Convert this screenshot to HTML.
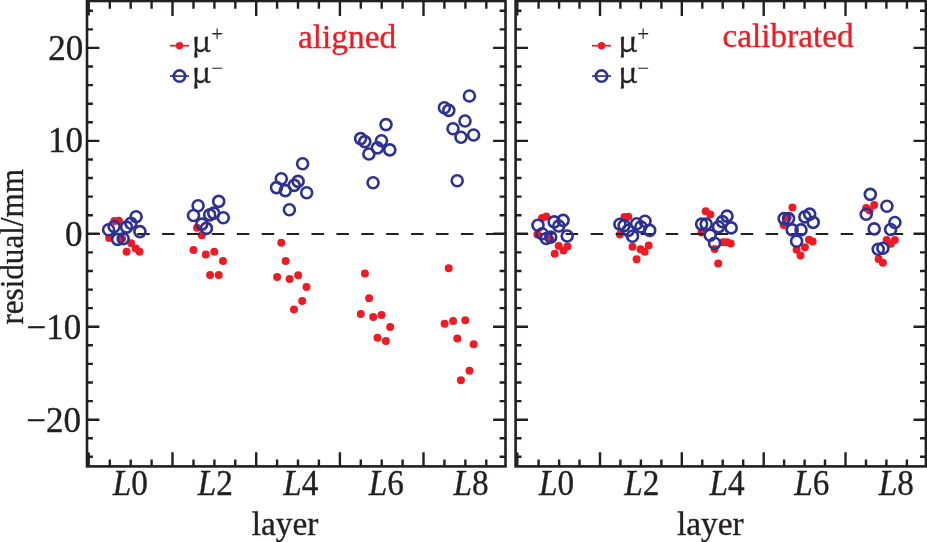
<!DOCTYPE html>
<html lang="en"><head><meta charset="utf-8"><title>residual vs layer</title>
<style>html,body{margin:0;padding:0;background:#fff}body{width:927px;height:542px;overflow:hidden}svg{display:block}text{stroke:currentColor;stroke-width:0.35px;font-family:"Liberation Serif","Times New Roman",Times,serif;font-size:34px;fill:#231f20;color:#231f20}</style>
</head><body>
<svg width="927" height="542" viewBox="0 0 927 542">
<rect x="0" y="0" width="927" height="542" fill="#fff"/>
<path d="M109.8 1.0v7.8M109.8 466.4v-7.0M130.7 1.0v7.8M130.7 466.4v-7.0M151.6 1.0v7.8M151.6 466.4v-7.0M172.5 1.0v14.9M172.5 466.4v-14.1M193.5 1.0v7.8M193.5 466.4v-7.0M214.4 1.0v7.8M214.4 466.4v-7.0M235.3 1.0v7.8M235.3 466.4v-7.0M256.2 1.0v14.9M256.2 466.4v-14.1M277.1 1.0v7.8M277.1 466.4v-7.0M298.0 1.0v7.8M298.0 466.4v-7.0M318.9 1.0v7.8M318.9 466.4v-7.0M339.9 1.0v14.9M339.9 466.4v-14.1M360.8 1.0v7.8M360.8 466.4v-7.0M381.7 1.0v7.8M381.7 466.4v-7.0M402.6 1.0v7.8M402.6 466.4v-7.0M423.5 1.0v14.9M423.5 466.4v-14.1M444.4 1.0v7.8M444.4 466.4v-7.0M465.4 1.0v7.8M465.4 466.4v-7.0M486.3 1.0v7.8M486.3 466.4v-7.0M87.0 456.8h5.9M505.5 456.8h-5.9M87.0 438.2h5.9M505.5 438.2h-5.9M87.0 419.7h12.4M505.5 419.7h-12.4M87.0 401.1h5.9M505.5 401.1h-5.9M87.0 382.5h5.9M505.5 382.5h-5.9M87.0 363.9h5.9M505.5 363.9h-5.9M87.0 345.3h5.9M505.5 345.3h-5.9M87.0 326.7h12.4M505.5 326.7h-12.4M87.0 308.1h5.9M505.5 308.1h-5.9M87.0 289.6h5.9M505.5 289.6h-5.9M87.0 271.0h5.9M505.5 271.0h-5.9M87.0 252.4h5.9M505.5 252.4h-5.9M87.0 233.8h12.4M505.5 233.8h-12.4M87.0 215.2h5.9M505.5 215.2h-5.9M87.0 196.6h5.9M505.5 196.6h-5.9M87.0 178.0h5.9M505.5 178.0h-5.9M87.0 159.5h5.9M505.5 159.5h-5.9M87.0 140.9h12.4M505.5 140.9h-12.4M87.0 122.3h5.9M505.5 122.3h-5.9M87.0 103.7h5.9M505.5 103.7h-5.9M87.0 85.1h5.9M505.5 85.1h-5.9M87.0 66.5h5.9M505.5 66.5h-5.9M87.0 47.9h12.4M505.5 47.9h-12.4M87.0 29.4h5.9M505.5 29.4h-5.9M87.0 10.8h5.9M505.5 10.8h-5.9" stroke="#231f20" stroke-width="2.4" fill="none"/>
<rect x="87.0" y="1.0" width="418.5" height="465.4" fill="none" stroke="#231f20" stroke-width="2.6"/>
<rect x="87.9" y="0" width="2" height="15.5" fill="#231f20"/>
<rect x="87.9" y="452.5" width="2" height="13" fill="#231f20"/>
<path d="M538.6 1.0v7.8M538.6 466.4v-7.0M559.1 1.0v7.8M559.1 466.4v-7.0M579.5 1.0v7.8M579.5 466.4v-7.0M600.0 1.0v14.9M600.0 466.4v-14.1M620.4 1.0v7.8M620.4 466.4v-7.0M640.9 1.0v7.8M640.9 466.4v-7.0M661.4 1.0v7.8M661.4 466.4v-7.0M681.8 1.0v14.9M681.8 466.4v-14.1M702.3 1.0v7.8M702.3 466.4v-7.0M722.7 1.0v7.8M722.7 466.4v-7.0M743.2 1.0v7.8M743.2 466.4v-7.0M763.7 1.0v14.9M763.7 466.4v-14.1M784.1 1.0v7.8M784.1 466.4v-7.0M804.6 1.0v7.8M804.6 466.4v-7.0M825.0 1.0v7.8M825.0 466.4v-7.0M845.5 1.0v14.9M845.5 466.4v-14.1M866.0 1.0v7.8M866.0 466.4v-7.0M886.4 1.0v7.8M886.4 466.4v-7.0M906.9 1.0v7.8M906.9 466.4v-7.0M515.6 456.8h5.9M925.9 456.8h-5.9M515.6 438.2h5.9M925.9 438.2h-5.9M515.6 419.7h12.4M925.9 419.7h-12.4M515.6 401.1h5.9M925.9 401.1h-5.9M515.6 382.5h5.9M925.9 382.5h-5.9M515.6 363.9h5.9M925.9 363.9h-5.9M515.6 345.3h5.9M925.9 345.3h-5.9M515.6 326.7h12.4M925.9 326.7h-12.4M515.6 308.1h5.9M925.9 308.1h-5.9M515.6 289.6h5.9M925.9 289.6h-5.9M515.6 271.0h5.9M925.9 271.0h-5.9M515.6 252.4h5.9M925.9 252.4h-5.9M515.6 233.8h12.4M925.9 233.8h-12.4M515.6 215.2h5.9M925.9 215.2h-5.9M515.6 196.6h5.9M925.9 196.6h-5.9M515.6 178.0h5.9M925.9 178.0h-5.9M515.6 159.5h5.9M925.9 159.5h-5.9M515.6 140.9h12.4M925.9 140.9h-12.4M515.6 122.3h5.9M925.9 122.3h-5.9M515.6 103.7h5.9M925.9 103.7h-5.9M515.6 85.1h5.9M925.9 85.1h-5.9M515.6 66.5h5.9M925.9 66.5h-5.9M515.6 47.9h12.4M925.9 47.9h-12.4M515.6 29.4h5.9M925.9 29.4h-5.9M515.6 10.8h5.9M925.9 10.8h-5.9" stroke="#231f20" stroke-width="2.4" fill="none"/>
<rect x="515.6" y="1.0" width="410.3" height="465.4" fill="none" stroke="#231f20" stroke-width="2.6"/>
<rect x="516.5" y="0" width="2" height="15.5" fill="#231f20"/>
<rect x="516.5" y="452.5" width="2" height="13" fill="#231f20"/>
<g fill="#ed1c24">
<circle cx="109.2" cy="238.1" r="4.0"/>
<circle cx="114.4" cy="221.0" r="4.0"/>
<circle cx="118.9" cy="220.8" r="4.0"/>
<circle cx="122.1" cy="238.7" r="4.0"/>
<circle cx="126.6" cy="251.7" r="4.0"/>
<circle cx="131.2" cy="243.3" r="4.0"/>
<circle cx="135.7" cy="248.4" r="4.0"/>
<circle cx="139.6" cy="251.7" r="4.0"/>
<circle cx="193.5" cy="250.0" r="4.0"/>
<circle cx="197.1" cy="227.8" r="4.0"/>
<circle cx="201.8" cy="235.2" r="4.0"/>
<circle cx="205.8" cy="254.6" r="4.0"/>
<circle cx="210.1" cy="274.9" r="4.0"/>
<circle cx="214.3" cy="251.8" r="4.0"/>
<circle cx="218.7" cy="274.9" r="4.0"/>
<circle cx="223.0" cy="261.0" r="4.0"/>
<circle cx="277.1" cy="277.0" r="4.0"/>
<circle cx="281.3" cy="242.8" r="4.0"/>
<circle cx="285.6" cy="260.9" r="4.0"/>
<circle cx="289.6" cy="279.0" r="4.0"/>
<circle cx="294.0" cy="309.4" r="4.0"/>
<circle cx="298.2" cy="275.2" r="4.0"/>
<circle cx="302.2" cy="301.1" r="4.0"/>
<circle cx="306.5" cy="287.0" r="4.0"/>
<circle cx="360.8" cy="314.0" r="4.0"/>
<circle cx="364.9" cy="273.6" r="4.0"/>
<circle cx="369.1" cy="298.2" r="4.0"/>
<circle cx="373.2" cy="317.0" r="4.0"/>
<circle cx="377.5" cy="337.7" r="4.0"/>
<circle cx="381.5" cy="315.0" r="4.0"/>
<circle cx="385.9" cy="340.9" r="4.0"/>
<circle cx="390.2" cy="327.1" r="4.0"/>
<circle cx="444.6" cy="323.7" r="4.0"/>
<circle cx="448.7" cy="268.3" r="4.0"/>
<circle cx="453.1" cy="320.9" r="4.0"/>
<circle cx="457.3" cy="338.6" r="4.0"/>
<circle cx="460.9" cy="380.2" r="4.0"/>
<circle cx="465.3" cy="320.3" r="4.0"/>
<circle cx="469.5" cy="370.7" r="4.0"/>
<circle cx="473.6" cy="344.2" r="4.0"/>
</g>
<line x1="87.4" y1="234.1" x2="505.5" y2="234.1" stroke="#231f20" stroke-width="2.0" stroke-dasharray="12.5 12.4"/>
<g fill="none" stroke="#2e3192" stroke-width="2.6">
<circle cx="108.6" cy="229.7" r="5.5"/>
<circle cx="114.1" cy="226.5" r="5.5"/>
<circle cx="117.6" cy="239.4" r="5.5"/>
<circle cx="123.2" cy="238.7" r="5.5"/>
<circle cx="126.6" cy="227.1" r="5.5"/>
<circle cx="130.9" cy="223.2" r="5.5"/>
<circle cx="136.1" cy="216.8" r="5.5"/>
<circle cx="139.9" cy="231.6" r="5.5"/>
<circle cx="193.5" cy="215.5" r="5.5"/>
<circle cx="198.1" cy="205.7" r="5.5"/>
<circle cx="201.8" cy="224.1" r="5.5"/>
<circle cx="206.4" cy="228.4" r="5.5"/>
<circle cx="209.7" cy="214.9" r="5.5"/>
<circle cx="213.7" cy="213.1" r="5.5"/>
<circle cx="218.7" cy="201.4" r="5.5"/>
<circle cx="223.3" cy="217.7" r="5.5"/>
<circle cx="276.5" cy="187.6" r="5.5"/>
<circle cx="281.3" cy="178.8" r="5.5"/>
<circle cx="285.3" cy="190.6" r="5.5"/>
<circle cx="289.4" cy="209.8" r="5.5"/>
<circle cx="294.2" cy="185.4" r="5.5"/>
<circle cx="298.1" cy="181.4" r="5.5"/>
<circle cx="302.6" cy="163.7" r="5.5"/>
<circle cx="306.7" cy="192.8" r="5.5"/>
<circle cx="360.6" cy="138.6" r="5.5"/>
<circle cx="364.8" cy="141.6" r="5.5"/>
<circle cx="368.9" cy="154.0" r="5.5"/>
<circle cx="373.1" cy="182.8" r="5.5"/>
<circle cx="377.4" cy="147.9" r="5.5"/>
<circle cx="381.5" cy="140.7" r="5.5"/>
<circle cx="386.0" cy="124.6" r="5.5"/>
<circle cx="389.8" cy="149.9" r="5.5"/>
<circle cx="444.4" cy="107.7" r="5.5"/>
<circle cx="448.8" cy="110.4" r="5.5"/>
<circle cx="453.0" cy="128.8" r="5.5"/>
<circle cx="457.2" cy="180.8" r="5.5"/>
<circle cx="461.0" cy="137.2" r="5.5"/>
<circle cx="465.0" cy="121.0" r="5.5"/>
<circle cx="469.4" cy="96.0" r="5.5"/>
<circle cx="473.6" cy="135.0" r="5.5"/>
</g>
<g fill="#ed1c24">
<circle cx="537.4" cy="234.6" r="4.0"/>
<circle cx="542.1" cy="217.9" r="4.0"/>
<circle cx="546.3" cy="216.4" r="4.0"/>
<circle cx="550.3" cy="239.3" r="4.0"/>
<circle cx="554.7" cy="253.7" r="4.0"/>
<circle cx="558.7" cy="245.9" r="4.0"/>
<circle cx="563.5" cy="250.4" r="4.0"/>
<circle cx="567.5" cy="246.4" r="4.0"/>
<circle cx="619.9" cy="234.6" r="4.0"/>
<circle cx="624.4" cy="217.1" r="4.0"/>
<circle cx="628.3" cy="216.8" r="4.0"/>
<circle cx="632.5" cy="246.7" r="4.0"/>
<circle cx="636.6" cy="259.2" r="4.0"/>
<circle cx="640.6" cy="249.3" r="4.0"/>
<circle cx="644.7" cy="251.8" r="4.0"/>
<circle cx="648.7" cy="245.5" r="4.0"/>
<circle cx="701.5" cy="232.6" r="4.0"/>
<circle cx="705.7" cy="211.3" r="4.0"/>
<circle cx="710.4" cy="214.6" r="4.0"/>
<circle cx="714.6" cy="249.0" r="4.0"/>
<circle cx="718.2" cy="263.4" r="4.0"/>
<circle cx="722.9" cy="242.3" r="4.0"/>
<circle cx="727.0" cy="242.3" r="4.0"/>
<circle cx="730.7" cy="243.5" r="4.0"/>
<circle cx="783.6" cy="224.9" r="4.0"/>
<circle cx="787.7" cy="217.4" r="4.0"/>
<circle cx="792.4" cy="207.4" r="4.0"/>
<circle cx="796.6" cy="249.8" r="4.0"/>
<circle cx="800.5" cy="255.6" r="4.0"/>
<circle cx="804.9" cy="247.3" r="4.0"/>
<circle cx="809.0" cy="239.8" r="4.0"/>
<circle cx="812.7" cy="241.5" r="4.0"/>
<circle cx="866.2" cy="208.1" r="4.0"/>
<circle cx="869.6" cy="210.5" r="4.0"/>
<circle cx="874.2" cy="204.9" r="4.0"/>
<circle cx="878.6" cy="259.0" r="4.0"/>
<circle cx="882.9" cy="262.7" r="4.0"/>
<circle cx="886.6" cy="240.0" r="4.0"/>
<circle cx="890.8" cy="243.7" r="4.0"/>
<circle cx="894.9" cy="240.0" r="4.0"/>
</g>
<line x1="515.7" y1="234.1" x2="925.8" y2="234.1" stroke="#231f20" stroke-width="2.0" stroke-dasharray="12.5 12.5"/>
<g fill="none" stroke="#2e3192" stroke-width="2.6">
<circle cx="538.0" cy="225.3" r="5.5"/>
<circle cx="542.1" cy="233.7" r="5.5"/>
<circle cx="546.3" cy="238.5" r="5.5"/>
<circle cx="550.7" cy="237.1" r="5.5"/>
<circle cx="554.2" cy="221.9" r="5.5"/>
<circle cx="558.8" cy="226.0" r="5.5"/>
<circle cx="563.1" cy="220.4" r="5.5"/>
<circle cx="567.2" cy="236.0" r="5.5"/>
<circle cx="619.9" cy="224.2" r="5.5"/>
<circle cx="624.1" cy="225.6" r="5.5"/>
<circle cx="628.3" cy="230.4" r="5.5"/>
<circle cx="632.5" cy="236.3" r="5.5"/>
<circle cx="636.6" cy="223.8" r="5.5"/>
<circle cx="640.9" cy="226.7" r="5.5"/>
<circle cx="645.0" cy="221.3" r="5.5"/>
<circle cx="649.7" cy="230.4" r="5.5"/>
<circle cx="701.6" cy="224.1" r="5.5"/>
<circle cx="706.2" cy="224.1" r="5.5"/>
<circle cx="710.2" cy="235.2" r="5.5"/>
<circle cx="714.6" cy="243.2" r="5.5"/>
<circle cx="718.5" cy="226.9" r="5.5"/>
<circle cx="722.4" cy="221.6" r="5.5"/>
<circle cx="727.0" cy="216.1" r="5.5"/>
<circle cx="731.2" cy="227.9" r="5.5"/>
<circle cx="784.1" cy="218.6" r="5.5"/>
<circle cx="788.6" cy="218.6" r="5.5"/>
<circle cx="792.2" cy="229.9" r="5.5"/>
<circle cx="796.6" cy="241.2" r="5.5"/>
<circle cx="801.0" cy="229.9" r="5.5"/>
<circle cx="804.9" cy="216.9" r="5.5"/>
<circle cx="809.7" cy="214.1" r="5.5"/>
<circle cx="813.2" cy="222.4" r="5.5"/>
<circle cx="866.2" cy="214.2" r="5.5"/>
<circle cx="870.3" cy="194.4" r="5.5"/>
<circle cx="874.2" cy="228.9" r="5.5"/>
<circle cx="878.2" cy="249.3" r="5.5"/>
<circle cx="882.9" cy="248.3" r="5.5"/>
<circle cx="886.9" cy="206.2" r="5.5"/>
<circle cx="890.6" cy="229.5" r="5.5"/>
<circle cx="894.9" cy="222.5" r="5.5"/>
</g>
<line x1="170.0" y1="45.7" x2="189.0" y2="45.7" stroke="#ed1c24" stroke-width="1.7"/>
<circle cx="179.5" cy="45.7" r="3.7" fill="#ed1c24"/>
<line x1="170.0" y1="76.1" x2="189.0" y2="76.1" stroke="#2e3192" stroke-width="1.7"/>
<circle cx="179.5" cy="76.1" r="5.7" fill="none" stroke="#2e3192" stroke-width="2.6"/>
<text transform="translate(191.6,51.9) scale(1.10,1)" style="font-family:'Noto Serif CJK SC','Liberation Serif',serif;font-size:28.5px;stroke-width:0.5px">μ</text><text x="211.3" y="41.4" style="font-size:21px;stroke-width:0.1px">+</text>
<text transform="translate(191.6,83.3) scale(1.10,1)" style="font-family:'Noto Serif CJK SC','Liberation Serif',serif;font-size:28.5px;stroke-width:0.5px">μ</text><text x="211.3" y="75.1" style="font-size:21px;stroke-width:0.1px">−</text>
<line x1="592.0" y1="45.7" x2="611.0" y2="45.7" stroke="#ed1c24" stroke-width="1.7"/>
<circle cx="601.5" cy="45.7" r="3.7" fill="#ed1c24"/>
<line x1="592.0" y1="76.1" x2="611.0" y2="76.1" stroke="#2e3192" stroke-width="1.7"/>
<circle cx="601.5" cy="76.1" r="5.7" fill="none" stroke="#2e3192" stroke-width="2.6"/>
<text transform="translate(618.0,51.9) scale(1.10,1)" style="font-family:'Noto Serif CJK SC','Liberation Serif',serif;font-size:28.5px;stroke-width:0.5px">μ</text><text x="637.3" y="41.4" style="font-size:21px;stroke-width:0.1px">+</text>
<text transform="translate(618.0,83.3) scale(1.10,1)" style="font-family:'Noto Serif CJK SC','Liberation Serif',serif;font-size:28.5px;stroke-width:0.5px">μ</text><text x="637.3" y="75.1" style="font-size:21px;stroke-width:0.1px">−</text>
<text x="298" y="47.8" style="fill:#ed1c24;color:#ed1c24" textLength="98.1" lengthAdjust="spacingAndGlyphs">aligned</text>
<text x="722.5" y="46.9" style="fill:#ed1c24;color:#ed1c24" textLength="131.2" lengthAdjust="spacingAndGlyphs">calibrated</text>
<text x="83.3" y="59.6" text-anchor="end" style="font-size:35px">20</text>
<text x="82.9" y="152.2" text-anchor="end" style="font-size:35px">10</text>
<text x="82.5" y="245.6" text-anchor="end" style="font-size:35px">0</text>
<text x="81.2" y="338.5" text-anchor="end" style="font-size:35px">−10</text>
<text x="81.0" y="432.0" text-anchor="end" style="font-size:35px">−20</text>
<text x="130.4" y="494.8" text-anchor="middle" style="font-size:35.5px" textLength="35.1" lengthAdjust="spacingAndGlyphs"><tspan font-style="italic">L</tspan>0</text>
<text x="215.3" y="494.8" text-anchor="middle" style="font-size:35.5px" textLength="35.1" lengthAdjust="spacingAndGlyphs"><tspan font-style="italic">L</tspan>2</text>
<text x="300.7" y="494.8" text-anchor="middle" style="font-size:35.5px" textLength="35.1" lengthAdjust="spacingAndGlyphs"><tspan font-style="italic">L</tspan>4</text>
<text x="386.2" y="494.8" text-anchor="middle" style="font-size:35.5px" textLength="35.1" lengthAdjust="spacingAndGlyphs"><tspan font-style="italic">L</tspan>6</text>
<text x="471.0" y="494.8" text-anchor="middle" style="font-size:35.5px" textLength="35.1" lengthAdjust="spacingAndGlyphs"><tspan font-style="italic">L</tspan>8</text>
<text x="556.5" y="494.8" text-anchor="middle" style="font-size:35.5px" textLength="35.1" lengthAdjust="spacingAndGlyphs"><tspan font-style="italic">L</tspan>0</text>
<text x="641.8" y="494.8" text-anchor="middle" style="font-size:35.5px" textLength="35.1" lengthAdjust="spacingAndGlyphs"><tspan font-style="italic">L</tspan>2</text>
<text x="727.0" y="494.8" text-anchor="middle" style="font-size:35.5px" textLength="35.1" lengthAdjust="spacingAndGlyphs"><tspan font-style="italic">L</tspan>4</text>
<text x="811.8" y="494.8" text-anchor="middle" style="font-size:35.5px" textLength="35.1" lengthAdjust="spacingAndGlyphs"><tspan font-style="italic">L</tspan>6</text>
<text x="896.3" y="494.8" text-anchor="middle" style="font-size:35.5px" textLength="35.1" lengthAdjust="spacingAndGlyphs"><tspan font-style="italic">L</tspan>8</text>
<text x="285" y="534.9" text-anchor="middle" textLength="66.6" lengthAdjust="spacingAndGlyphs">layer</text>
<text x="710.3" y="534.9" text-anchor="middle" textLength="66.6" lengthAdjust="spacingAndGlyphs">layer</text>
<text transform="translate(23.2,324.6) rotate(-90)" textLength="155.5" lengthAdjust="spacingAndGlyphs">residual/mm</text>
</svg></body></html>
